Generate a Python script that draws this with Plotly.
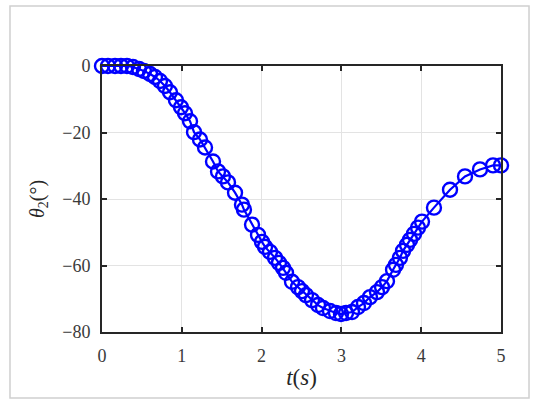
import plotly.graph_objects as go

# time samples (s) and joint angle theta_2 (deg)
t = [0.0, 0.075, 0.163, 0.238, 0.313, 0.388, 0.464, 0.526, 0.602, 0.664,
     0.727, 0.789, 0.852, 0.927, 0.990, 1.040, 1.103, 1.153, 1.228, 1.291,
     1.391, 1.454, 1.516, 1.579, 1.667, 1.754, 1.779, 1.880, 1.955, 2.005,
     2.043, 2.105, 2.168, 2.218, 2.268, 2.306, 2.381, 2.456, 2.506, 2.556,
     2.632, 2.707, 2.769, 2.857, 2.932, 2.995, 3.058, 3.133, 3.208, 3.283,
     3.358, 3.446, 3.509, 3.571, 3.647, 3.684, 3.734, 3.772, 3.822, 3.860,
     3.910, 3.960, 4.010, 4.160, 4.361, 4.549, 4.737, 4.900, 5.0]
theta2 = [0.0, 0.0, 0.0, 0.0, 0.0, -0.3, -0.9, -1.5, -2.4, -3.3,
          -4.5, -6.0, -7.9, -10.3, -12.4, -14.2, -16.6, -19.9, -22.1, -24.5,
          -28.7, -31.7, -33.2, -35.0, -38.1, -41.7, -43.2, -47.7, -50.8, -52.9,
          -54.4, -55.9, -57.7, -59.2, -60.7, -62.2, -64.9, -66.5, -67.7, -68.9,
          -70.4, -71.9, -72.8, -73.7, -74.3, -74.6, -74.3, -74.0, -72.5, -71.3,
          -69.5, -68.0, -66.5, -64.7, -61.3, -59.8, -57.7, -55.6, -53.8, -52.3,
          -50.5, -48.6, -46.8, -42.6, -37.2, -33.2, -31.1, -29.9, -29.9]

x_ticks = [0, 1, 2, 3, 4, 5]
y_ticks = [0, -20, -40, -60, -80]
y_tick_text = ["0", "\u221220", "\u221240", "\u221260", "\u221280"]

font = "Liberation Serif, DejaVu Serif, serif"
ink = "#262626"

fig = go.Figure()
fig.add_trace(go.Scatter(
    x=t, y=theta2, mode="lines+markers", cliponaxis=False,
    line=dict(color="#0000ff", width=2.2),
    marker=dict(symbol="circle-open", size=14, color="#0000ff",
                line=dict(color="#0000ff", width=2.4)),
))

axis_style = dict(
    showline=True, linecolor=ink, linewidth=2, mirror="ticks",
    ticks="inside", ticklen=5, tickwidth=1.5, tickcolor=ink,
    showgrid=True, gridcolor="#e3e3e3", gridwidth=1, zeroline=False,
    tickfont=dict(family=font, size=18, color="#3a3a3a"),
)

fig.update_xaxes(range=[0, 5], tickvals=x_ticks, ticklabelstandoff=6,
                 title=dict(text="<i>t</i>(<i>s</i>)", standoff=4,
                            font=dict(family=font, size=23, color=ink)),
                 **axis_style)
fig.update_yaxes(range=[-80, 0], tickvals=y_ticks, ticktext=y_tick_text,
                 ticklabelstandoff=6,
                 title=dict(text="<i>\u03b8</i><sub>2</sub>(\u00b0)", standoff=12,
                            font=dict(family=font, size=20, color=ink)),
                 **axis_style)

# light grey frame round the whole figure
fig.add_shape(type="rect", xref="paper", yref="paper",
              x0=-0.2306, x1=1.0702, y0=-0.248, y1=1.2256,
              line=dict(color="#cfcfcf", width=1.5))

fig.update_layout(
    width=540, height=402, showlegend=False,
    paper_bgcolor="white", plot_bgcolor="white",
    margin=dict(l=102, r=39, t=66, b=70),
)

# drop the page's default body margin so the figure sits at the corner
fig.write_html("out.html", config={"displayModeBar": False},
               post_script="document.body.style.margin='0';")
